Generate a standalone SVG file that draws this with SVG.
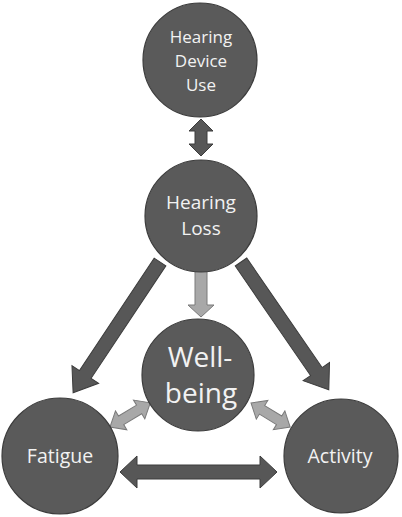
<svg xmlns="http://www.w3.org/2000/svg" width="402" height="517" viewBox="0 0 402 517">
<style>
.node{fill:#5a5a5a;stroke:#3c3c3c;stroke-width:1.2}
.lbl{fill:#f2f2f2;font-family:"Open Sans","Liberation Sans",sans-serif;text-anchor:middle}
.dark{fill:#575757;stroke:#3c3c3c;stroke-width:1}
.light{fill:#a8a8a8;stroke:#7a7a7a;stroke-width:1}
</style>
<rect width="402" height="517" fill="#ffffff"/>
<g id="connectors">
<polygon class="dark" points="201,119 213,131 207,131 207,144 213,144 201,156 189,144 195,144 195,131 189,131"/>
<polygon class="light" points="195,271 207,271 207,305 214,305 201,317 188,305 195,305"/>
<g transform="translate(160,262) rotate(123.6)">
<polygon class="dark" points="0,-7 135,-7 135,-16 157,0 135,16 135,7 0,7"/>
</g>
<g transform="translate(241,262) rotate(55.5)">
<polygon class="dark" points="0,-7 133,-7 133,-16 155,0 133,16 133,7 0,7"/>
</g>
<polygon class="dark" points="120,472 137,456 137,465 260,465 260,456 277,472 260,488 260,479 137,479 137,488"/>
<g transform="translate(110,427) rotate(-31)">
<polygon class="light" points="0,0 13,-11 13,-5 34,-5 34,-11 47,0 34,11 34,5 13,5 13,11"/>
</g>
<g transform="translate(251,403) rotate(31.6)">
<polygon class="light" points="0,0 13,-11 13,-5 33,-5 33,-11 46,0 33,11 33,5 13,5 13,11"/>
</g>
</g>
<g id="hearing-device-use">
<circle class="node" cx="200" cy="60" r="57"/>
<text class="lbl" font-size="17" x="201" y="43">Hearing</text>
<text class="lbl" font-size="17" x="201" y="67">Device</text>
<text class="lbl" font-size="17" x="201" y="91">Use</text>
</g>
<g id="hearing-loss">
<circle class="node" cx="201" cy="216" r="56"/>
<text class="lbl" font-size="19" x="201" y="209">Hearing</text>
<text class="lbl" font-size="19" x="201" y="235">Loss</text>
</g>
<g id="well-being">
<circle class="node" cx="198" cy="375" r="56"/>
<text class="lbl" font-size="28" x="200" y="367">Well-</text>
<text class="lbl" font-size="28" x="201" y="403">being</text>
</g>
<g id="fatigue">
<circle class="node" cx="60" cy="456" r="58"/>
<text class="lbl" font-size="19.5" x="60" y="463">Fatigue</text>
</g>
<g id="activity">
<circle class="node" cx="341" cy="456" r="57"/>
<text class="lbl" font-size="19.5" x="340" y="463">Activity</text>
</g>
</svg>
